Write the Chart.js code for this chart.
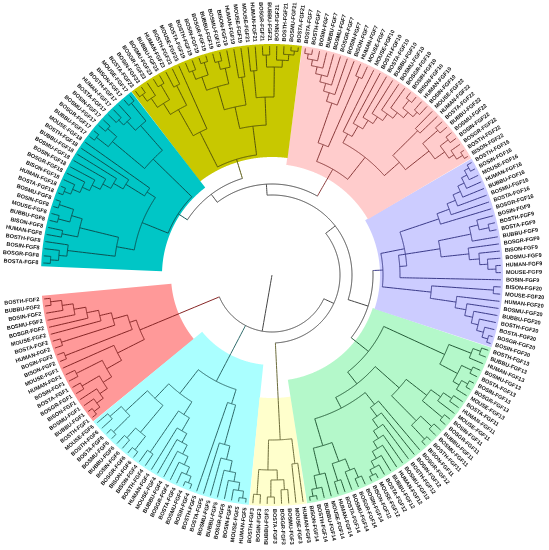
<!DOCTYPE html>
<html>
<head>
<meta charset="utf-8">
<script src="https://cdn.jsdelivr.net/npm/chart.js@4.4.0/dist/chart.umd.min.js"></script>
<style>
  html, body { margin: 0; padding: 0; background: #fff; }
  #wrap { width: 549px; height: 550px; }
</style>
</head>
<body>
<div id="wrap"><canvas id="tree"></canvas></div>
<script>
// gene families, each a small newick tree: leaves are species, numbers are node radii
const families = ['FGF8', 'FGF18', 'FGF17', 'FGF23', 'FGF19', 'FGF21', 'FGF7', 'FGF10', 'FGF22',
  'FGF16', 'FGF9', 'FGF20', 'FGF13', 'FGF11', 'FGF12', 'FGF14', 'FGF3', 'FGF5', 'FGF4', 'FGF6', 'FGF1', 'FGF2'];
const familyTrees = [
  "((((BOSTA,BOSGR)222,BOSIN)214,BOSTH)206,((HUMAN,BISON)214,((BUBBU,MOUSE)221,(BOSIN,BOSMU)224)209)198)158",
  "((((((((BOSTA,HUMAN)224,BISON)217,BOSGR)209,BOSIN)201,BOSMU)192,BUBBU)183,BOSTH)172,MOUSE)150",
  "(((BUBBU,BOSGR)223,(BOSMU,BOSIN)220)208,(((BOSTA,HUMAN)218,BOSTH)211,(BISON,MOUSE)222)199)166",
  "(((((BOSTA,BOSIN)222,BOSGR)214,(BOSMU,BUBBU)220)203,(HUMAN,BOSTH)212)190,MOUSE)160",
  "((((BOSTA,BOSTH)219,(BOSIN,BOSGR)223)210,((BUBBU,BOSMU)220,BISON)212)196,(HUMAN,MOUSE)200)172",
  "((MOUSE,HUMAN)205,((BOSGR,BUBBU)220,(BOSIN,(BOSTH,(BOSMU,BOSTA)225)221)215)208)178",
  "((((((((BOSTA,BOSTH)224,BOSIN)219,BUBBU)213,BOSMU)206,BOSGR)199,BOSIN)191,BISON)182,(HUMAN,MOUSE)216)140",
  "(MOUSE,(BOSTH,(BOSTA,(BUBBU,(BOSMU,(BOSGR,((BOSIN,BISON)222,(HUMAN,BOSIN)218)212)205)198)190)182)172)160",
  "((MOUSE,HUMAN)205,((BOSTA,BUBBU)220,((BOSMU,BOSIN)222,(BOSGR,(BOSTH,BISON)225)218)212)200)170",
  "(((((((BOSTH,BOSIN)224,MOUSE)219,HUMAN)213,BUBBU)206,BOSMU)198,BOSTA)189,BOSGR)176",
  "((((BOSIN,(BOSTH,BOSTA)222)212,BUBBU)203,(BOSGR,(BISON,(BOSMU,(HUMAN,MOUSE)224)216)208)198)170,BOSIN)128",
  "((BISON,MOUSE)222,(HUMAN,(BOSMU,(BUBBU,(BOSTH,(BOSTA,(BOSGR,BOSIN)225)219)212)205)197)186)160",
  "(((BOSTH,BUBBU)222,HUMAN)214,((BOSMU,BOSTA)221,((BOSIN,BOSGR)224,MOUSE)217)210)190",
  "((((BOSTA,HUMAN)218,MOUSE)208,(BOSIN,BOSGR)222)196,((BUBBU,BOSMU)220,(BOSTH,BISON)224)205)170",
  "(BOSGR,(BOSIN,(BOSTH,(BOSMU,(HUMAN,(BUBBU,(BOSTA,(MOUSE,BISON)224)218)211)203)195)186)176)165",
  "((((BOSIN,BOSGR)220,BOSMU)210,(BOSTA,HUMAN)216)198,(MOUSE,(BUBBU,(BOSTH,BISON)225)218)205)178",
  "((HUMAN,MOUSE)190,(((BOSMU,BOSGR)215,(BOSTA,BUBBU)222)205,(BOSIN,BOSTH)220)195)165",
  "(((((((HUMAN,MOUSE)225,BOSIN)218,BOSGR)210,BUBBU)201,BOSMU)190,BOSTA)176,BOSTH)135",
  "(((((((BOSIN,BOSMU)224,BOSTA)217,BOSGR)209,BUBBU)200,MOUSE)190,HUMAN)180,(BOSTH,BISON)215)165",
  "(((BISON,BOSGR)222,(BOSIN,BUBBU)218)205,((BOSMU,BOSTA)223,(BOSTH,MOUSE)215)200)170",
  "((((((BOSTH,BUBBU)224,BOSMU)217,BISON)209,(BOSGR,BOSTA)220)200,(BOSIN,HUMAN)219)190,MOUSE)173",
  "((BISON,BOSIN)222,((HUMAN,BOSTA)221,(MOUSE,(BOSGR,(BOSMU,(BOSIN,(BUBBU,BOSTH)223)212)201)189)177)165)150"
];

// coloured clades
const clades = ['TEAL', 'OLIVE', 'PINK', 'LAVENDER', 'GREEN', 'PALEYELLOW', 'PALECYAN', 'RED'];
const cladeTrees = [
  "((FGF8,FGF18)140,FGF17)112",
  "(FGF23,(FGF19,FGF21)150)121",
  "(FGF7,(FGF10,FGF22)150)122",
  "((FGF16,FGF9)135,FGF20)111",
  "(FGF13,(FGF11,(FGF12,FGF14)150)138)123",
  "FGF3",
  "(FGF5,(FGF4,FGF6)150)120",
  "(FGF1,FGF2)143"
];
const cladeInner = [110, 118, 111, 108, 106, 123, 90, 101];
const cladeFill = ['#00c6c6', '#c8c800', '#ffcccc', '#ccccff', '#b4f8ca', '#ffffcc', '#aaffff', '#ff9999'];
const cladeLine = ['#0b5252', '#55550a', '#8a3b3b', '#3b3b8a', '#245c38', '#6b6b3a', '#2f6b6b', '#862525'];

// backbone joining the clades
const backbone = "((((((TEAL,OLIVE)101,PINK)91,(LAVENDER,GREEN)101)80,PALEYELLOW)68,PALECYAN,RED)57)0";
const backboneLine = '#444444';

const firstLeaf = 273;   // degrees, clockwise from top
const leafStep = 1.8;
const tipR = 229;
const outerR = 231;
const labelR = 234;

function markClade(n, c) {
  n.clade = c;
  if (n.children) n.children.forEach(k => markClade(k, c));
}

function parseTree(str, family) {
  let pos = 0;
  function token() {
    const m = /^[^(),]*/.exec(str.slice(pos))[0];
    pos += m.length;
    return m;
  }
  function node() {
    if (str[pos] === '(') {
      pos++;
      const n = { children: [node()] };
      while (str[pos] === ',') { pos++; n.children.push(node()); }
      pos++;
      n.r = +token();
      return n;
    }
    const name = token();
    if (clades.includes(name)) {
      const c = clades.indexOf(name);
      const sub = parseTree(cladeTrees[c]);
      markClade(sub, c);
      return sub;
    }
    if (families.includes(name)) return parseTree(familyTrees[families.indexOf(name)], name);
    return { label: name + '-' + family, r: tipR };
  }
  return node();
}

const root = parseTree(backbone);

const leaves = [];
function place(n) {
  if (!n.children) {
    n.angle = firstLeaf + leaves.length * leafStep;
    leaves.push(n);
    return;
  }
  n.children.forEach(place);
  n.angle = n.children.reduce((s, c) => s + c.angle, 0) / n.children.length;
}
place(root);

const rad = d => d * Math.PI / 180;
const pt = (r, a) => ({ x: r * Math.sin(rad(a)), y: r * Math.cos(rad(a)) });

// branch polylines grouped by colour
const groups = {};
function addPath(key, pts) {
  (groups[key] = groups[key] || []).push(...pts, { x: null, y: null });
}
function arcPts(r, a1, a2, stepDeg) {
  const n = Math.max(2, Math.ceil((a2 - a1) / stepDeg) + 1);
  const pts = [];
  for (let i = 0; i < n; i++) pts.push(pt(r, a1 + (a2 - a1) * i / (n - 1)));
  return pts;
}
function walk(n) {
  if (!n.children) return;
  const key = n.clade ?? -1;
  const a1 = n.children[0].angle, a2 = n.children[n.children.length - 1].angle;
  if (a2 > a1) addPath(key, arcPts(n.r, a1, a2, 0.8));
  n.children.forEach(c => {
    addPath(c.clade ?? -1, [pt(n.r, c.angle), pt(c.r, c.angle)]);
    walk(c);
  });
}
walk(root);

const datasets = [];
Object.keys(groups).forEach(k => {
  const c = +k;
  datasets.push({
    data: groups[k],
    showLine: true,
    spanGaps: false,
    tension: 0.0001,      // keeps chart.js off its pixel-column fast path
    borderColor: c < 0 ? backboneLine : cladeLine[c],
    borderWidth: 1,
    pointRadius: 0,
    order: 1
  });
});

// clade sectors: a thick arc whose butt ends are radial
clades.forEach((name, c) => {
  const mine = leaves.filter(l => l.clade === c);
  const a1 = mine[0].angle - leafStep / 2;
  const a2 = mine[mine.length - 1].angle + leafStep / 2;
  datasets.push({
    data: arcPts((cladeInner[c] + outerR) / 2, a1, a2, 0.4),
    showLine: true,
    tension: 0.0001,
    borderColor: cladeFill[c],
    borderWidth: outerR - cladeInner[c],
    borderCapStyle: 'butt',
    borderJoinStyle: 'round',
    pointRadius: 0,
    order: 2
  });
});

const leafLabels = {
  id: 'leafLabels',
  afterDatasetsDraw(chart) {
    const { ctx, scales: { x, y } } = chart;
    ctx.save();
    ctx.font = 'bold 5.5px "Liberation Sans", Arial, sans-serif';
    ctx.fillStyle = '#111';
    ctx.textBaseline = 'middle';
    leaves.forEach(leaf => {
      const p = pt(labelR, leaf.angle);
      const a = rad(leaf.angle);
      const norm = ((leaf.angle % 360) + 360) % 360;
      ctx.save();
      ctx.translate(x.getPixelForValue(p.x), y.getPixelForValue(p.y));
      if (norm < 180) {
        ctx.rotate(a - Math.PI / 2);
        ctx.textAlign = 'left';
      } else {
        ctx.rotate(a + Math.PI / 2);
        ctx.textAlign = 'right';
      }
      ctx.fillText(leaf.label, 0, 0);
      ctx.restore();
    });
    ctx.restore();
  }
};

new Chart(document.getElementById('tree'), {
  type: 'scatter',
  data: { datasets },
  options: {
    responsive: true,
    maintainAspectRatio: false,
    animation: false,
    events: [],
    layout: { padding: 0 },
    scales: {
      x: { type: 'linear', min: -272, max: 277, display: false },
      y: { type: 'linear', min: -275, max: 275, display: false }
    },
    plugins: {
      legend: { display: false },
      tooltip: { enabled: false }
    }
  },
  plugins: [leafLabels]
});
</script>
</body>
</html>
